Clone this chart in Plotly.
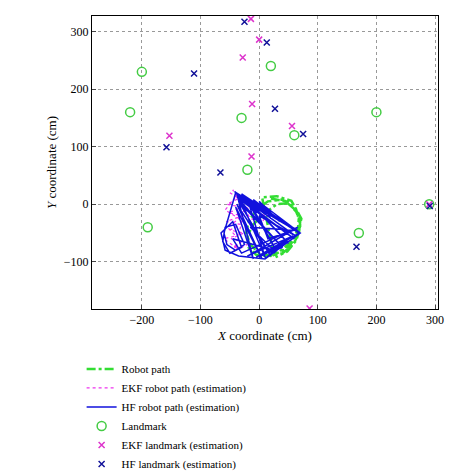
import plotly.graph_objects as go

# Landmarks (true)
lm_x = [-200, -220, 20, -30, 60, 200, -20, -190, 170, 290]
lm_y = [230, 160, 240, 150, 120, 160, 60, -40, -50, 0]
# EKF landmark estimates
ekf_x = [-14, 0, -28, -12, 56, -153, -13, 86, 290]
ekf_y = [322, 286, 255, 174, 136, 119, 83, -181, 0]
# HF landmark estimates
hf_x = [-25, 13, -111, 27, 75, -158, -66, 166, 291]
hf_y = [317, 281, 227, 166, 122, 99, 55, -74, -3]

# Robot path (hand traced)
path_x = [20, 45, 62, 70, 68, 58, 40, 20, 0, -15, -22, -18, -5, 15, 38, 58, 68, 66, 55, 35, 15, -5, -18, -20, -10, 10, 30, 50, 65, 70, 62, 45, 25,
          5, 30, 55, 72, 64, 48, 28]
path_y = [10, 5, -10, -30, -50, -70, -85, -90, -85, -70, -50, -30, -10, 5, 8, 0, -20, -45, -65, -82, -90, -88, -75, -55, -35, -15, 0, 2, -15, -38, -60, -78, -88,
          12, 14, 6, -25, -62, -82, -92]
# EKF path (hand traced)
ekf_px = [-50, -35, -55, -30, -52, -28, -56, -32, -50, -26, -48, -30, -45, -20, -40, -25, -10, 10, 20, 5, -15,
          -45, -38, -58, -34, -54, -40, -60, -36, -50]
ekf_py = [20, 10, 0, -5, -15, -20, -30, -35, -45, -50, -60, -65, -75, -70, -80, -5, -10, -20, -15, -30, -25,
          25, 15, -10, -25, -40, -55, -60, -78, -85]
# HF path (hand traced)
hf_px = [-40, 70, -38, 60, -36, 40, -35, 20, -38, 5, -40, -10, -38, 65, -30, 55, -20, 45, -10, 35, 0, 20, 5, 70, -40,
         -55, -60, -55, -40, -25, -40, -58, -62, -50, -30, -45, -65, -58, -35, 10, 70,
         -42, 68, -30, 50, -25, 30, -20, 10, -35, 62, 0, 15, 60, -15, 25, -45,
         -30, 66, -20, 58, -5, 48, 10, 38, 25, 30, 40, 15, 55, 0, 68, -30]
hf_py = [20, -50, 15, -60, 10, -75, 5, -90, 0, -95, -5, -95, 18, -45, 12, -40, 10, -35, 8, -30, 5, -25, 0, -50, 20,
         -30, -50, -70, -80, -70, -35, -40, -65, -85, -75, -30, -50, -80, -90, -95, -50,
         22, -48, 18, -68, 14, -82, 10, -92, 16, -55, -20, -60, -45, -40, -80, -60,
         -85, -40, -90, -55, -92, -65, -94, -72, -85, -78, -75, -85, -62, -92, -50, 15]

fig = go.Figure()
fig.add_trace(go.Scatter(x=path_x, y=path_y, mode="lines", name="Robot path",
                         line=dict(color="#33dd33", dash="dashdot", width=2.5)))
fig.add_trace(go.Scatter(x=ekf_px, y=ekf_py, mode="lines", name="EKF robot path (estimation)",
                         line=dict(color="#ee33ee", dash="dot", width=1.2)))
fig.add_trace(go.Scatter(x=hf_px, y=hf_py, mode="lines", name="HF robot path (estimation)",
                         line=dict(color="#1111dd", width=1.5)))
fig.add_trace(go.Scatter(x=lm_x, y=lm_y, mode="markers", name="Landmark",
                         marker=dict(symbol="circle-open", color="#44cc44", size=9, line=dict(width=1.5))))
fig.add_trace(go.Scatter(x=ekf_x, y=ekf_y, mode="markers", name="EKF landmark (estimation)",
                         marker=dict(symbol="x-thin-open", color="#dd33cc", size=6, line=dict(width=1.5))))
fig.add_trace(go.Scatter(x=hf_x, y=hf_y, mode="markers", name="HF landmark (estimation)",
                         marker=dict(symbol="x-thin-open", color="#111199", size=6, line=dict(width=1.5))))

ax = dict(showline=True, mirror=True, linecolor="black", linewidth=1, ticks="inside", ticklen=4,
          showgrid=True, gridcolor="#999", griddash="dot", zeroline=False,
          tickfont=dict(size=12, color="black"))
fig.update_layout(
    width=474, height=474, margin=dict(l=84, r=44, t=8, b=173, autoexpand=False),
    plot_bgcolor="white", paper_bgcolor="white",
    font=dict(family="Liberation Serif", color="black"),
    xaxis=dict(ax, range=[-285, 305], tickvals=[-200, -100, 0, 100, 200, 300], tickangle=0,
               title=dict(text="<i>X</i> coordinate (cm)", font=dict(size=13), standoff=4)),
    yaxis=dict(ax, range=[-182, 327], tickvals=[-100, 0, 100, 200, 300],
               title=dict(text="<i>Y</i> coordinate (cm)", font=dict(size=13), standoff=4)),
    legend=dict(x=-0.03, y=-0.155, xanchor="left", yanchor="top",
                font=dict(size=11), tracegroupgap=0, itemwidth=30, bgcolor="rgba(0,0,0,0)"),
    showlegend=True,
)
fig.write_html("out.html")
